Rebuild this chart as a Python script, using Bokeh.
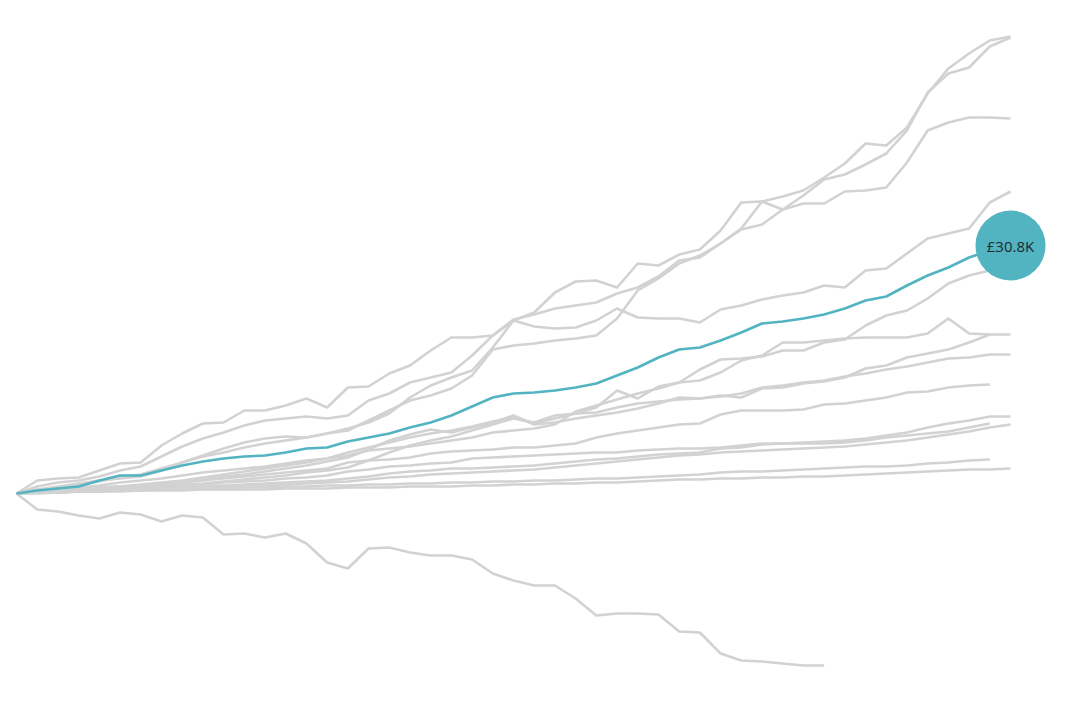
from bokeh.plotting import figure
from bokeh.models import Range1d, ColumnDataSource
from bokeh.embed import file_html
from bokeh.resources import INLINE
from bokeh.core.properties import value

# Projected pot value (£K) per month, one list per scenario
A = [6.0,6.7,7.1,7.3,7.7,8.3,8.7,9.7,10.7,11.5,12.1,12.8,13.3,13.5,13.7,13.5,13.8,15.3,16.0,17.1,
     17.6,18.1,19.8,21.8,23.4,23.9,24.5,24.8,25.1,26.0,26.6,27.7,29.3,29.6,31.0,32.5,35.2,35.7,36.3,37.6,
     39.0,41.0,40.8,42.6,46.0,48.5,50.0,51.3,51.7]
B = [6.0,6.3,6.6,6.9,7.2,7.6,7.9,8.5,9.1,9.8,10.5,11.1,11.5,11.7,11.6,12.0,12.3,13.3,14.3,15.3,
     15.8,16.5,17.8,20.4,20.8,21.0,21.3,21.5,21.8,23.5,26.3,27.5,29.0,29.8,31.0,32.4,32.9,34.4,35.8,37.4,
     37.9,38.9,40.0,42.3,46.1,48.0,48.6,50.7,51.6]
C = [6.0,7.3,7.5,7.6,8.3,9.0,9.1,10.8,12.0,13.0,13.1,14.3,14.3,14.8,15.5,14.6,16.6,16.7,18.0,18.8,
     20.3,21.6,21.6,21.8,23.3,24.1,26.1,27.2,27.3,26.6,29.0,28.8,29.9,30.4,32.3,35.1,35.2,34.4,35.0,35.0,
     36.2,36.3,36.6,39.1,42.3,43.1,43.6,43.6,43.5]
D = [6.0,6.4,6.7,7.0,7.3,7.5,7.7,8.3,9.1,9.7,10.1,10.6,11.0,11.3,11.6,12.0,12.5,13.1,14.0,15.6,
     16.8,17.6,18.3,20.6,23.3,22.7,22.5,22.6,23.3,24.5,23.6,23.5,23.5,23.1,24.4,24.8,25.4,25.8,26.1,26.8,
     26.6,28.3,28.5,30.0,31.5,32.0,32.5,35.1,36.2]
E = [6.0,6.2,6.4,6.6,6.8,7.1,7.3,7.5,7.8,8.1,8.3,8.5,8.7,9.0,9.3,9.5,9.8,10.3,10.5,10.7,
     11.0,11.3,11.6,12.1,12.3,12.5,12.9,14.2,14.8,15.4,16.0,16.5,17.1,18.4,19.4,19.5,19.7,20.3,20.3,21.1,
     21.4,22.8,23.8,24.3,25.5,27.0,27.8,28.3,28.7]
G1 = [6.0,6.2,6.3,6.4,6.6,6.7,6.9,7.1,7.3,7.6,7.9,8.2,8.5,8.8,9.1,9.5,10.1,10.6,11.1,11.6,
      12.0,12.3,12.7,13.2,13.6,13.0,13.5,14.0,14.6,16.3,15.5,16.7,17.1,17.3,18.1,19.3,19.8,21.1,21.1,21.3,
      21.5,21.6,21.6,21.6,22.0,23.5,22.0,21.9,21.9]
G2 = [6.0,6.1,6.2,6.4,6.5,6.7,6.8,7.0,7.2,7.4,7.7,7.9,8.2,8.5,8.8,9.2,9.6,10.4,11.3,11.9,
      12.4,12.1,12.6,13.1,13.8,12.9,13.1,13.5,13.8,14.1,14.5,15.0,15.6,15.5,15.8,15.6,16.5,16.6,17.0,17.2,
      17.6,18.5,18.8,19.6,20.0,20.4,21.1,21.9]
H = [6.0,6.1,6.2,6.3,6.4,6.5,6.6,6.7,6.9,7.0,7.2,7.4,7.6,7.8,8.1,8.3,8.6,9.3,10.1,10.8,
     11.3,11.7,12.3,12.9,13.5,13.1,13.8,14.0,14.1,14.6,15.0,15.2,15.4,15.5,15.7,16.0,16.6,16.8,17.1,17.3,
     17.7,18.0,18.4,18.7,19.1,19.5,19.6,19.9,19.9]
I = [6.0,6.2,6.3,6.4,6.6,6.7,6.8,6.9,7.1,7.3,7.5,7.7,7.9,8.1,8.3,8.5,9.1,9.3,9.4,9.6,
     10.0,10.2,10.3,10.4,10.6,10.6,10.8,11.0,11.6,12.0,12.3,12.6,12.9,13.0,13.9,14.3,14.3,14.3,14.4,14.9,
     15.0,15.3,15.6,16.1,16.2,16.6,16.8,16.9]
J = [6.0,6.1,6.2,6.3,6.4,6.5,6.6,6.7,6.8,6.9,7.1,7.2,7.3,7.5,7.6,7.8,8.2,8.4,8.7,8.8,
     9.0,9.1,9.5,9.6,9.7,9.8,9.9,10.0,10.1,10.1,10.3,10.4,10.5,10.5,10.6,10.8,11.0,11.0,11.1,11.2,
     11.3,11.5,11.8,12.1,12.6,13.0,13.3,13.7,13.7]
K1 = [6.0,6.1,6.1,6.2,6.3,6.4,6.5,6.6,6.7,6.8,6.8,6.9,7.0,7.1,7.2,7.3,7.5,7.7,8.0,8.2,
      8.3,8.5,8.5,8.6,8.7,8.8,9.0,9.2,9.4,9.5,9.7,9.9,10.0,10.1,10.5,10.6,10.9,11.0,11.0,11.0,
      11.1,11.3,11.6,11.8,12.0,12.2,12.6,13.0]
K2 = [6.0,6.0,6.1,6.2,6.2,6.3,6.4,6.4,6.5,6.6,6.7,6.8,6.8,6.9,7.0,7.1,7.2,7.4,7.6,7.7,
      7.9,8.0,8.1,8.2,8.3,8.4,8.6,8.8,9.0,9.2,9.4,9.6,9.8,9.9,10.1,10.2,10.3,10.4,10.5,10.6,
      10.7,10.9,11.1,11.3,11.6,11.9,12.2,12.6,12.9]
L = [6.0,6.1,6.1,6.2,6.2,6.3,6.3,6.4,6.4,6.5,6.5,6.6,6.6,6.7,6.7,6.8,6.8,6.9,6.9,7.0,
     7.0,7.1,7.1,7.2,7.2,7.3,7.3,7.4,7.5,7.5,7.6,7.7,7.8,7.9,8.1,8.2,8.2,8.3,8.4,8.5,
     8.6,8.7,8.7,8.8,9.0,9.1,9.3,9.4]
M = [6.0,6.1,6.1,6.2,6.2,6.2,6.3,6.3,6.3,6.4,6.4,6.4,6.4,6.5,6.5,6.5,6.6,6.6,6.6,6.7,
     6.7,6.7,6.8,6.8,6.9,6.9,7.0,7.0,7.1,7.1,7.2,7.3,7.4,7.4,7.5,7.5,7.6,7.6,7.7,7.7,
     7.8,7.9,8.0,8.1,8.2,8.3,8.4,8.4,8.5]
N = [6.0,4.4,4.2,3.8,3.5,4.1,3.9,3.2,3.8,3.6,1.9,2.0,1.6,2.0,1.0,-0.9,-1.5,0.5,0.6,0.1,
     -0.2,-0.2,-0.6,-2.0,-2.7,-3.2,-3.2,-4.5,-6.2,-6.0,-6.0,-6.1,-7.8,-7.9,-10.0,-10.7,-10.8,-11.0,-11.2,-11.2]
# Highlighted scenario
T = [6.0,6.3,6.5,6.7,7.3,7.8,7.8,8.3,8.8,9.2,9.5,9.7,9.8,10.1,10.5,10.6,11.2,11.6,12.0,12.6,
     13.1,13.8,14.7,15.6,16.0,16.1,16.3,16.6,17.0,17.8,18.6,19.6,20.4,20.6,21.3,22.1,23.0,23.2,23.5,23.9,
     24.5,25.3,25.7,26.8,27.8,28.6,29.6,30.3,30.8]

grey_series = [A, B, C, D, E, G1, G2, H, I, J, K1, K2, L, M, N]

GREY = "#d2d2d2"
TEAL = "#52b3c1"

step = 994 / 48.0
x0 = -16 / step
p = figure(width=1058, height=694, output_backend="svg", toolbar_location=None,
           x_range=Range1d(x0, x0 + 1058 / step), y_range=Range1d(-14.1, 55.3),
           min_border=0, min_border_left=0, min_border_right=0,
           min_border_top=0, min_border_bottom=0)
p.axis.visible = False
p.grid.visible = False
p.outline_line_color = None
p.background_fill_color = "white"
p.border_fill_color = "white"

for s in grey_series:
    p.line(list(range(len(s))), s, line_color=GREY, line_width=2.6, line_join="round")

p.line(list(range(len(T))), T, line_color=TEAL, line_width=2.6, line_join="round")

last_x = len(T) - 1
last_y = T[-1]
src = ColumnDataSource(dict(x=[last_x], y=[last_y], label=[f"£{last_y:.1f}K"]))
p.scatter("x", "y", source=src, size=70, fill_color=TEAL, line_color=None)
p.text("x", "y", text="label", source=src, text_align="center", text_baseline="middle",
       text_font=value("Open Sans"), text_font_size="15px", text_color="#1e2a2e")

open("out.html", "w").write(file_html(p, INLINE))
